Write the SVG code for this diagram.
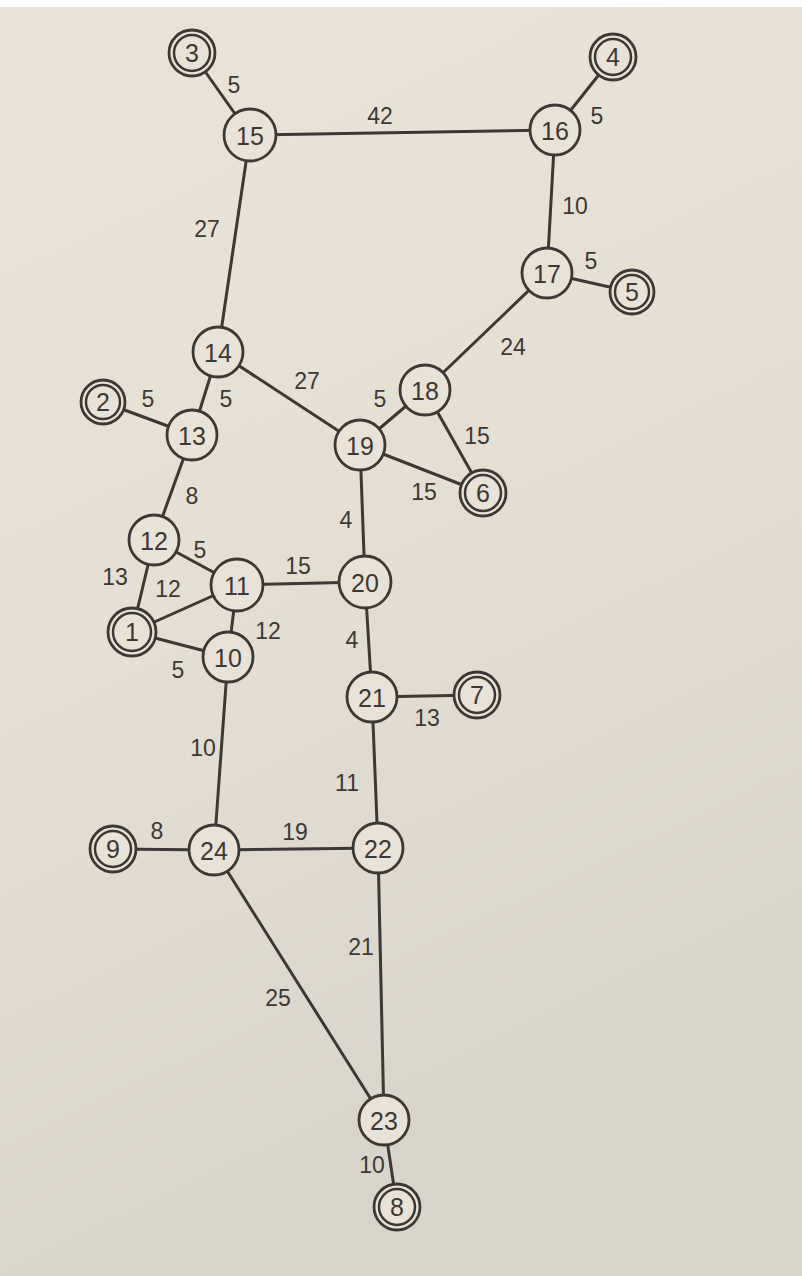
<svg xmlns="http://www.w3.org/2000/svg" width="802" height="1276" viewBox="0 0 802 1276">
<defs>
<linearGradient id="bg" x1="0" y1="0" x2="0.3" y2="1">
<stop offset="0" stop-color="#ebe5d9"/>
<stop offset="0.45" stop-color="#e6e0d4"/>
<stop offset="1" stop-color="#d9d4ca"/>
</linearGradient>
<style>
.e{stroke:#3d3833;stroke-width:3;fill:none;stroke-linecap:round}
.n{fill:#e9e3d7;stroke:#3d3833;stroke-width:2.8}
.d{fill:none;stroke:#3d3833;stroke-width:2.5}
.t{font-family:"Liberation Sans",Arial,sans-serif;font-size:25px;fill:#3d3833;text-anchor:middle;dominant-baseline:central}
.l{font-family:"Liberation Sans",Arial,sans-serif;font-size:23px;fill:#3d3833;text-anchor:middle;dominant-baseline:central}
</style>
</defs>
<rect width="802" height="1276" fill="url(#bg)"/>
<rect width="802" height="7" fill="#ffffff"/>
<g id="connectors">
<line class="e" x1="192" y1="53" x2="250" y2="135"/>
<line class="e" x1="250" y1="135" x2="555" y2="130"/>
<line class="e" x1="555" y1="130" x2="613" y2="57"/>
<line class="e" x1="555" y1="130" x2="547" y2="273"/>
<line class="e" x1="547" y1="273" x2="632" y2="292"/>
<line class="e" x1="250" y1="135" x2="218" y2="352"/>
<line class="e" x1="547" y1="273" x2="425" y2="390"/>
<line class="e" x1="218" y1="352" x2="192" y2="435"/>
<line class="e" x1="103" y1="402" x2="192" y2="435"/>
<line class="e" x1="218" y1="352" x2="360" y2="445"/>
<line class="e" x1="360" y1="445" x2="425" y2="390"/>
<line class="e" x1="425" y1="390" x2="483" y2="493"/>
<line class="e" x1="360" y1="445" x2="483" y2="493"/>
<line class="e" x1="192" y1="435" x2="154" y2="540"/>
<line class="e" x1="360" y1="445" x2="365" y2="582"/>
<line class="e" x1="154" y1="540" x2="237" y2="585"/>
<line class="e" x1="154" y1="540" x2="132" y2="632"/>
<line class="e" x1="132" y1="632" x2="237" y2="585"/>
<line class="e" x1="237" y1="585" x2="365" y2="582"/>
<line class="e" x1="237" y1="585" x2="228" y2="657"/>
<line class="e" x1="132" y1="632" x2="228" y2="657"/>
<line class="e" x1="365" y1="582" x2="372" y2="697"/>
<line class="e" x1="372" y1="697" x2="477" y2="695"/>
<line class="e" x1="228" y1="657" x2="214" y2="850"/>
<line class="e" x1="372" y1="697" x2="378" y2="848"/>
<line class="e" x1="113" y1="849" x2="214" y2="850"/>
<line class="e" x1="214" y1="850" x2="378" y2="848"/>
<line class="e" x1="378" y1="848" x2="384" y2="1120"/>
<line class="e" x1="214" y1="850" x2="384" y2="1120"/>
<line class="e" x1="384" y1="1120" x2="397" y2="1207"/>
</g>
<g id="edge-labels">
<text class="l" x="234" y="85">5</text>
<text class="l" x="380" y="116">42</text>
<text class="l" x="597" y="116">5</text>
<text class="l" x="575" y="206">10</text>
<text class="l" x="591" y="261">5</text>
<text class="l" x="207" y="229">27</text>
<text class="l" x="513" y="347">24</text>
<text class="l" x="226" y="399">5</text>
<text class="l" x="148" y="399">5</text>
<text class="l" x="307" y="381">27</text>
<text class="l" x="380" y="399">5</text>
<text class="l" x="477" y="436">15</text>
<text class="l" x="424" y="492">15</text>
<text class="l" x="192" y="496">8</text>
<text class="l" x="346" y="520">4</text>
<text class="l" x="200" y="550">5</text>
<text class="l" x="115" y="577">13</text>
<text class="l" x="168" y="589">12</text>
<text class="l" x="298" y="566">15</text>
<text class="l" x="268" y="631">12</text>
<text class="l" x="178" y="670">5</text>
<text class="l" x="352" y="640">4</text>
<text class="l" x="427" y="718">13</text>
<text class="l" x="203" y="748">10</text>
<text class="l" x="347" y="783">11</text>
<text class="l" x="157" y="831">8</text>
<text class="l" x="295" y="832">19</text>
<text class="l" x="361" y="947">21</text>
<text class="l" x="278" y="998">25</text>
<text class="l" x="372" y="1165">10</text>
</g>
<g id="n3"><circle class="n" cx="192" cy="53" r="23"/><circle class="d" cx="192" cy="53" r="18"/><text class="t" x="192" y="53">3</text></g>
<g id="n4"><circle class="n" cx="613" cy="57" r="23"/><circle class="d" cx="613" cy="57" r="18"/><text class="t" x="613" y="57">4</text></g>
<g id="n5"><circle class="n" cx="632" cy="292" r="22"/><circle class="d" cx="632" cy="292" r="17"/><text class="t" x="632" y="292">5</text></g>
<g id="n2"><circle class="n" cx="103" cy="402" r="22"/><circle class="d" cx="103" cy="402" r="17"/><text class="t" x="103" y="402">2</text></g>
<g id="n6"><circle class="n" cx="483" cy="493" r="23"/><circle class="d" cx="483" cy="493" r="18"/><text class="t" x="483" y="493">6</text></g>
<g id="n1"><circle class="n" cx="132" cy="632" r="24"/><circle class="d" cx="132" cy="632" r="19"/><text class="t" x="132" y="632">1</text></g>
<g id="n7"><circle class="n" cx="477" cy="695" r="23"/><circle class="d" cx="477" cy="695" r="18"/><text class="t" x="477" y="695">7</text></g>
<g id="n9"><circle class="n" cx="113" cy="849" r="23"/><circle class="d" cx="113" cy="849" r="18"/><text class="t" x="113" y="849">9</text></g>
<g id="n8"><circle class="n" cx="397" cy="1207" r="23"/><circle class="d" cx="397" cy="1207" r="18"/><text class="t" x="397" y="1207">8</text></g>
<g id="n15"><circle class="n" cx="250" cy="135" r="26"/><text class="t" x="250" y="136">15</text></g>
<g id="n16"><circle class="n" cx="555" cy="130" r="25"/><text class="t" x="555" y="131">16</text></g>
<g id="n17"><circle class="n" cx="547" cy="273" r="25"/><text class="t" x="547" y="274">17</text></g>
<g id="n14"><circle class="n" cx="218" cy="352" r="25"/><text class="t" x="218" y="353">14</text></g>
<g id="n18"><circle class="n" cx="425" cy="390" r="25"/><text class="t" x="425" y="391">18</text></g>
<g id="n13"><circle class="n" cx="192" cy="435" r="25"/><text class="t" x="192" y="436">13</text></g>
<g id="n19"><circle class="n" cx="360" cy="445" r="25"/><text class="t" x="360" y="446">19</text></g>
<g id="n12"><circle class="n" cx="154" cy="540" r="25"/><text class="t" x="154" y="541">12</text></g>
<g id="n11"><circle class="n" cx="237" cy="585" r="26"/><text class="t" x="237" y="586">11</text></g>
<g id="n20"><circle class="n" cx="365" cy="582" r="26"/><text class="t" x="365" y="583">20</text></g>
<g id="n10"><circle class="n" cx="228" cy="657" r="25"/><text class="t" x="228" y="658">10</text></g>
<g id="n21"><circle class="n" cx="372" cy="697" r="25"/><text class="t" x="372" y="698">21</text></g>
<g id="n24"><circle class="n" cx="214" cy="850" r="25"/><text class="t" x="214" y="851">24</text></g>
<g id="n22"><circle class="n" cx="378" cy="848" r="25"/><text class="t" x="378" y="849">22</text></g>
<g id="n23"><circle class="n" cx="384" cy="1120" r="25"/><text class="t" x="384" y="1121">23</text></g>
</svg>
